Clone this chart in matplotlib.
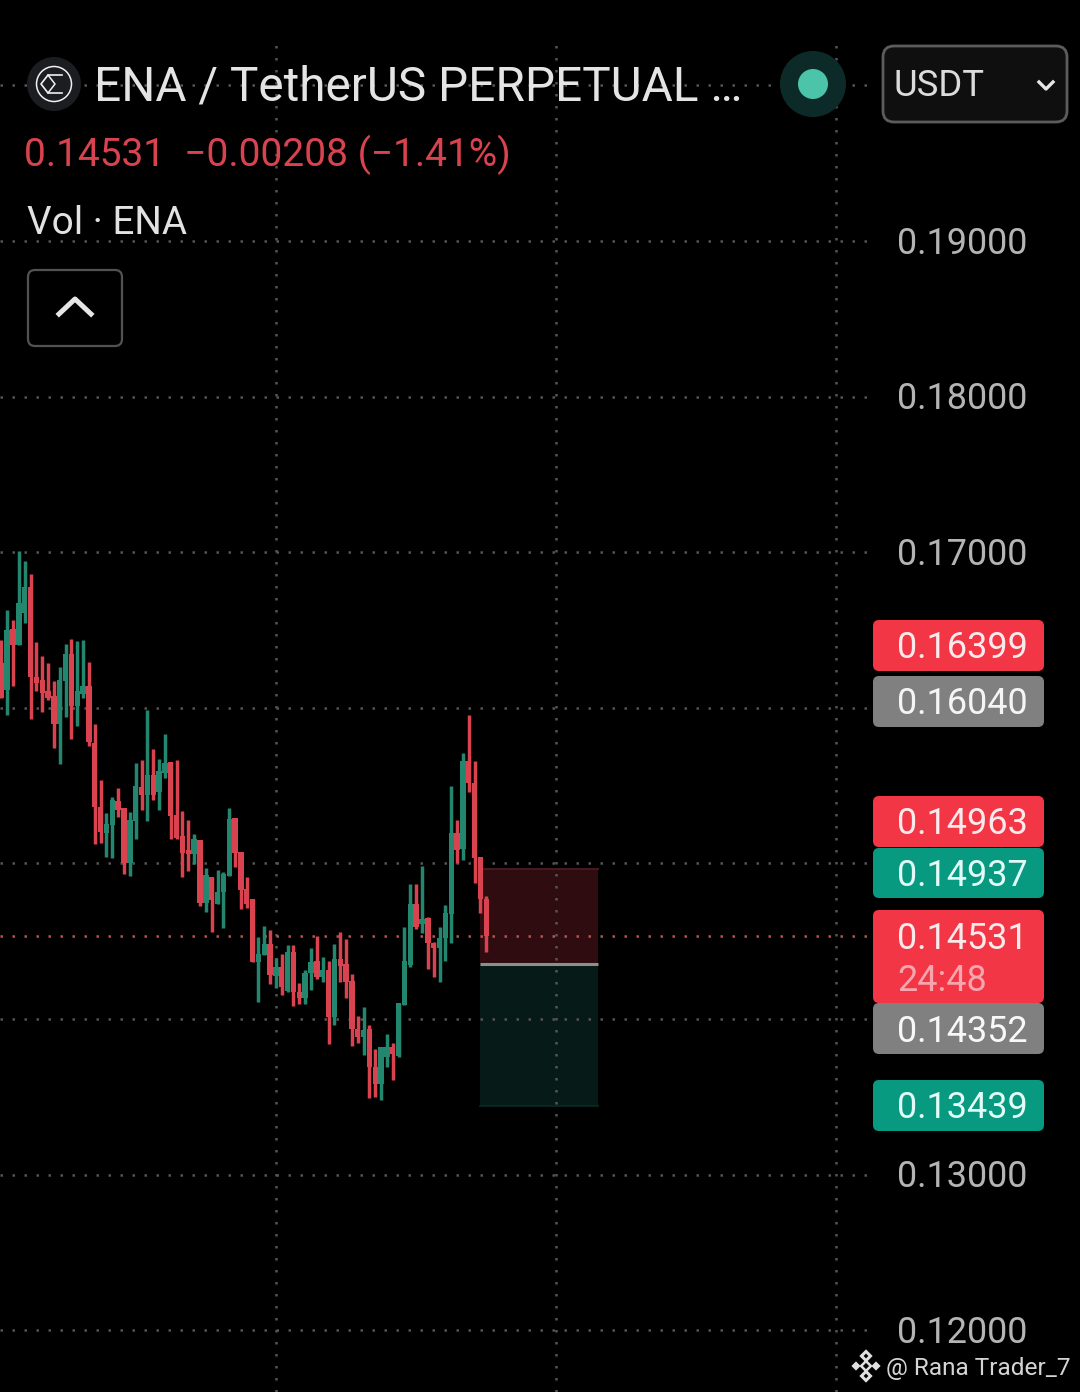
import matplotlib
matplotlib.use("Agg")
import matplotlib.pyplot as plt
from matplotlib.patches import FancyBboxPatch, Circle
from matplotlib.transforms import blended_transform_factory, offset_copy

plt.rcParams['font.family'] = ['Roboto', 'DejaVu Sans']
plt.rcParams['lines.scale_dashes'] = False

# Candles
opens = [.16289, .16116, .16508, .16405, .16611, .16778, .16199, .16180, .16109, .16077,
         .15897, .16174, .16347, .16013, .16090, .16141, .15775, .15364, .15197, .15248,
         .15402, .15357, .15004, .15274, .15492, .15441, .15569, .15460, .15582, .15653,
         .15312, .15177, .15087, .15062, .15152, .14747, .14914, .14740, .14817, .14920,
         .15293, .15075, .14837, .14772, .14368, .14413, .14483, .14278, .14335, .14181,
         .14432, .14175, .14136, .14297, .14374, .14271, .14316, .14014, .14387, .14355,
         .14245, .13937, .13886, .13937, .13693, .13583, .13757, .13821, .13763, .14091,
         .14348, .14740, .14612, .14650, .14490, .14458, .14522, .14676, .15197, .15094,
         .15659, .15518, .15042, .14772]
closes = [.16064, .16501, .16405, .16675, .16778, .16199, .16161, .16096, .16064, .15897,
          .16180, .16347, .16013, .16109, .16141, .15781, .15364, .15203, .15254, .15409,
          .15344, .15004, .15280, .15499, .15441, .15569, .15441, .15595, .15647, .15306,
          .15164, .15068, .15062, .15158, .14747, .14927, .14766, .14817, .14933, .15287,
          .15068, .14830, .14740, .14368, .14419, .14483, .14284, .14335, .14207, .14432,
          .14175, .14136, .14297, .14368, .14271, .14316, .14014, .14387, .14342, .14239,
          .13937, .13886, .13931, .13693, .13583, .13821, .13821, .13776, .14104, .14374,
          .14740, .14592, .14644, .14490, .14458, .14522, .14682, .15197, .15087, .15659,
          .15518, .15036, .14772, .14531]
highs = [.16437, .16630, .16566, .17009, .16945, .16861, .16424, .16334, .16289, .16174,
         .16264, .16411, .16443, .16431, .16437, .16296, .15897, .15537, .15325, .15428,
         .15486, .15357, .15332, .15647, .15666, .15987, .15736, .15672, .15833, .15653,
         .15666, .15338, .15280, .15190, .15152, .14972, .14914, .14959, .14946, .15357,
         .15293, .15075, .14914, .14772, .14528, .14599, .14573, .14393, .14419, .14477,
         .14477, .14233, .14316, .14458, .14535, .14400, .14374, .14483, .14560, .14515,
         .14290, .14020, .14078, .13963, .13808, .13821, .13905, .13847, .14104, .14592,
         .14869, .14869, .14985, .14657, .14496, .14592, .14734, .15499, .15280, .15711,
         .15955, .15659, .15042, .14792]
lows = [.16064, .15955, .16141, .16405, .16546, .15929, .16109, .15974, .16051, .15743,
        .15640, .15942, .15801, .15884, .16064, .15756, .15126, .15132, .15042, .15036,
        .15299, .14933, .14920, .15158, .15344, .15274, .15409, .15344, .15550, .15158,
        .15158, .14914, .14952, .14997, .14727, .14689, .14560, .14740, .14586, .14920,
        .14978, .14708, .14715, .14368, .14110, .14413, .14226, .14200, .14155, .14175,
        .14085, .14098, .14098, .14188, .14258, .14239, .13841, .13963, .14239, .14136,
        .13828, .13847, .13770, .13493, .13500, .13481, .13693, .13609, .13757, .14091,
        .14335, .14580, .14554, .14323, .14271, .14239, .14374, .14490, .15004, .15023,
        .15460, .14875, .14682, .14432]

grid_prices = [.20, .19, .18, .17, .16, .15, .14, .13, .12]
tick_prices = [.19, .18, .17, .13, .12]
last_price = .14531
stop_price = .14963
entry_price = .14352
target_price = .13439
box_start = 81.9
box_end = 102.1
grid_bars = [47.0, 94.9, 142.9]

# price badges: (label, colour, text colour, pixel top, pixel bottom)
badges = [("0.16399", "#f23645", "#fbeaec", 620, 671),
          ("0.16040", "#808080", "#f5f5f5", 676, 727),
          ("0.14963", "#f23645", "#fbeaec", 796, 847),
          ("0.14937", "#089981", "#e2fbf6", 848, 898),
          ("0.14531", "#f23645", "#fbeaec", 910, 1003),
          ("0.14352", "#808080", "#f8f8f8", 1003, 1054),
          ("0.13439", "#089981", "#e2fbf6", 1080, 1131)]

RED = "#d9434f"
GREEN = "#23876f"
BG = "#000000"
DOTS = (0, (1.8, 6.84))

fig = plt.figure(figsize=(10.8, 13.92), dpi=100, facecolor=BG)

# price chart, bar index against price
ax = fig.add_axes([0, 0, 1, 1], facecolor=BG)
ax.set_xlim(-0.2225, 184.6)
ax.set_ylim(0.11603, 0.20549)
ax.axis("off")

# flat overlay in screen pixels for the app's chrome
ui = fig.add_axes([0, 0, 1, 1], facecolor="none")
ui.set_xlim(0, 1080)
ui.set_ylim(1392, 0)
ui.axis("off")

price_tf = blended_transform_factory(ui.transData, ax.transData)
label_tf = offset_copy(price_tf, fig=fig, y=1.5, units="dots")

# position box
ax.fill_between([box_start, box_end], entry_price, stop_price, color="#2f0c10", lw=0, zorder=1)
ax.fill_between([box_start, box_end], target_price, entry_price, color="#061b18", lw=0, zorder=1)
ax.plot([box_start, box_end], [stop_price, stop_price], color="#4a1a1f", lw=1.4, zorder=1)
ax.plot([box_start, box_end], [target_price, target_price], color="#0b2a26", lw=1.2, zorder=1)
ax.plot([box_start, box_end], [entry_price, entry_price], color="#8e8e8e", lw=2.2, zorder=4, solid_capstyle="butt")

# grid
ax.hlines(grid_prices, 0, 868, transform=price_tf, colors="#555555", lw=1.8, linestyles=[DOTS], zorder=2)
for b in grid_bars:
    ax.plot([b, b], [0.11603, 0.2031], color="#555555", lw=1.8, ls=DOTS, zorder=2)
ax.hlines([last_price], 0, 868, transform=price_tf, colors="#b85450", lw=1.8, linestyles=[DOTS], zorder=2)

# candles
for i in range(len(opens)):
    col = GREEN if closes[i] >= opens[i] else RED
    ax.vlines(i, lows[i], highs[i], colors=col, lw=2.5, zorder=5)
    ax.bar(i, abs(closes[i] - opens[i]), bottom=min(opens[i], closes[i]), width=0.92, color=col, lw=0, zorder=5)

# axis labels
for p in tick_prices:
    ax.text(897, p, "%.5f" % p, transform=label_tf, color="#b4b4b4", fontsize=25.9, va="center_baseline", ha="left", zorder=7)

# badges
for label, fc, tc, top, bottom in badges:
    ui.add_patch(FancyBboxPatch((877, top + 4), 163, bottom - top - 8, boxstyle="round,pad=4,rounding_size=6",
                                fc=fc, ec="none", zorder=8))
    tall = bottom - top > 60
    y = top + 25 if tall else (top + bottom) / 2 - 1
    ui.text(897, y, label, color=tc, fontsize=25.9, va="center_baseline", ha="left", zorder=9)
ui.text(897, 977, "24:48", color="#f7a6ae", fontsize=25.9, va="center_baseline", ha="left", zorder=9)

# header
ui.add_patch(Circle((54, 84), 27, fc="#1b1d21", ec="none", zorder=8))
ui.add_patch(Circle((54, 84), 17.5, fc="none", ec="#f0f0f0", lw=1.1, zorder=9))
ui.plot([62, 48, 41, 48, 62], [75, 75, 84, 93, 93], color="#f0f0f0", lw=1.2, zorder=9)
ui.plot([48, 55, 48], [75, 84, 93], color="#f0f0f0", lw=1.1, zorder=9)
ui.text(94, 83, "ENA / TetherUS PERPETUAL …", color="#e4e4e4", fontsize=34.4, va="center_baseline", ha="left", zorder=9)
ui.text(24, 150.5, "0.14531  −0.00208 (−1.41%)", color=RED, fontsize=28, va="center_baseline", ha="left", zorder=9)
ui.text(27, 219.5, "Vol · ENA", color="#e2e2e2", fontsize=27.8, va="center_baseline", ha="left", zorder=9)

# collapse button
ui.add_patch(FancyBboxPatch((33, 275), 84, 66, boxstyle="round,pad=5,rounding_size=7",
                            fc=BG, ec="#525252", lw=1.6, zorder=8))
ui.plot([59, 75, 91], [314, 299, 314], color="#e6e6e6", lw=3.6, zorder=9)

# status dot and currency selector
ui.add_patch(Circle((813, 84), 33, fc="#0c2b28", ec="none", zorder=8))
ui.add_patch(Circle((813, 84), 15, fc="#4cc4a9", ec="none", zorder=9))
ui.add_patch(FancyBboxPatch((890, 53), 170, 62, boxstyle="round,pad=7,rounding_size=11",
                            fc="#0f0f0f", ec="#5c5c5c", lw=2.0, zorder=8))
ui.text(894, 82.5, "USDT", color="#dcdcdc", fontsize=26.2, va="center_baseline", ha="left", zorder=9)
ui.plot([1039, 1046, 1053], [82, 89, 82], color="#e6e6e6", lw=2.4, zorder=9)

# watermark
ui.scatter([866, 856, 876, 866, 866], [1366, 1366, 1366, 1356, 1376], marker="D",
           s=[46, 22, 22, 46, 46], color="#e0e0e0", lw=0, zorder=9)
ui.scatter([866, 866, 866], [1366, 1356, 1376], marker="D", s=[10, 6, 6], color=BG, lw=0, zorder=10)
ui.text(886, 1365.5, "@ Rana Trader_7", color="#d4d4d4", fontsize=17.6, va="center_baseline", ha="left", zorder=9)

fig.savefig("out.png", dpi=100, facecolor=BG)
